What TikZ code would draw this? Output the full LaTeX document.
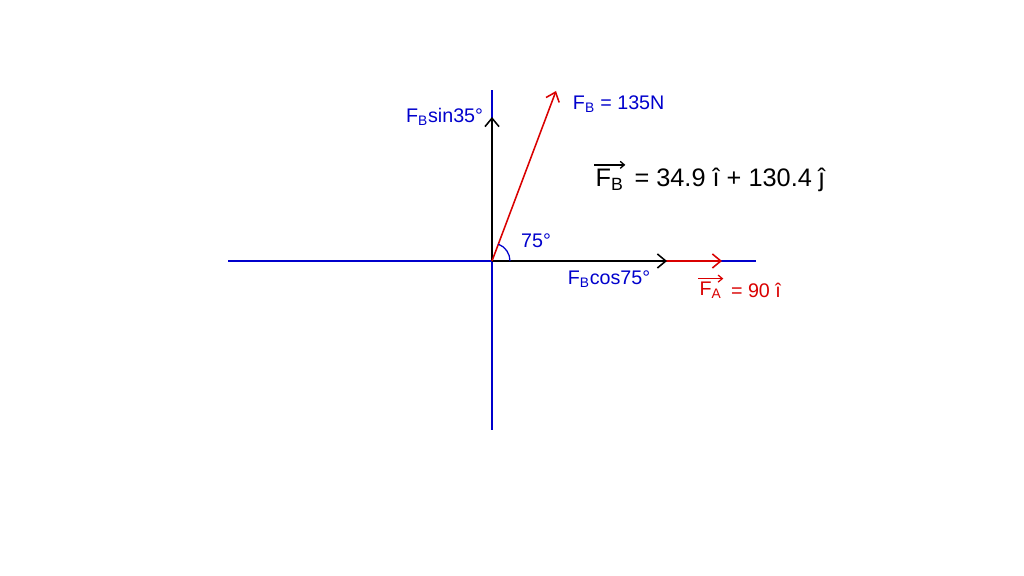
\documentclass[tikz,border=0pt]{standalone}
\usepackage{fontspec}
\setmainfont{Liberation Sans}
\usetikzlibrary{calc, arrows.meta, positioning}
\tikzset{
	axis/.style = {blue!80!black, line width = 0.9pt},
	comp/.style = {-{Straight Barb[length = 6pt, width = 10pt]}, black, line width = 1.1pt},
	force/.style = {-{Straight Barb[length = 6pt, width = 10pt]}, red!85!black, line width = 1.1pt},
	vecbar/.style = {-{Straight Barb[length = 3pt, width = 5pt]}, line width = 0.9pt},
	lbl/.style = {blue!80!black, font = \fontsize{14}{16}\selectfont},
}
\begin{document}
\begin{tikzpicture}[x = 0.025cm, y = 0.025cm]
	\useasboundingbox (0,0) rectangle (1024,576);

	\coordinate (o) at (492,315);
	\coordinate (xl) at (228,315);
	\coordinate (xr) at (756,315);
	\coordinate (yt) at (492,486);
	\coordinate (yb) at (492,146);
	\coordinate (up) at (492,459);
	\coordinate (right) at (667,315);
	\coordinate (fa) at (722,315);
	\coordinate (fb) at (556,485);

	\draw [axis](xl)--(xr);
	\draw [axis](yb)--(yt);
	\draw [force](o)--(fa);
	\draw [comp](o)--(right);
	\draw [comp](o)--(up);
	\draw [force](o)--(fb);
	\draw [axis] ($(o)+(18,0)$) arc (0:69:18);

	\node (ang)[lbl] at (536,335) {75°};
	\node (sin)[lbl, anchor = east] at (488,459) {F\textsubscript{B}sin35°};
	\node (mag)[lbl, anchor = west] at (568,472) {F\textsubscript{B} = 135N};
	\node (cos)[lbl] at (609,297) {F\textsubscript{B}cos75°};

	\node (fav)[lbl, red!85!black, anchor = west, inner sep = 1pt] at (698,286) {F\textsubscript{A}};
	\node (fal)[lbl, red!85!black, right = 2pt of fav] {= 90 î};
	\draw [vecbar, red!85!black]([yshift = 1pt]fav.north west)--([yshift = 1pt]fav.north east);

	\node (fbv)[font = \fontsize{18}{20}\selectfont, anchor = west, inner sep = 1pt] at (594,396) {F\textsubscript{B}};
	\node (eq)[font = \fontsize{18}{20}\selectfont, right = 3pt of fbv] {= 34.9 î + 130.4 ĵ};
	\draw [vecbar]([yshift = 2pt]fbv.north west)--([yshift = 2pt]fbv.north east);
\end{tikzpicture}
\end{document}
